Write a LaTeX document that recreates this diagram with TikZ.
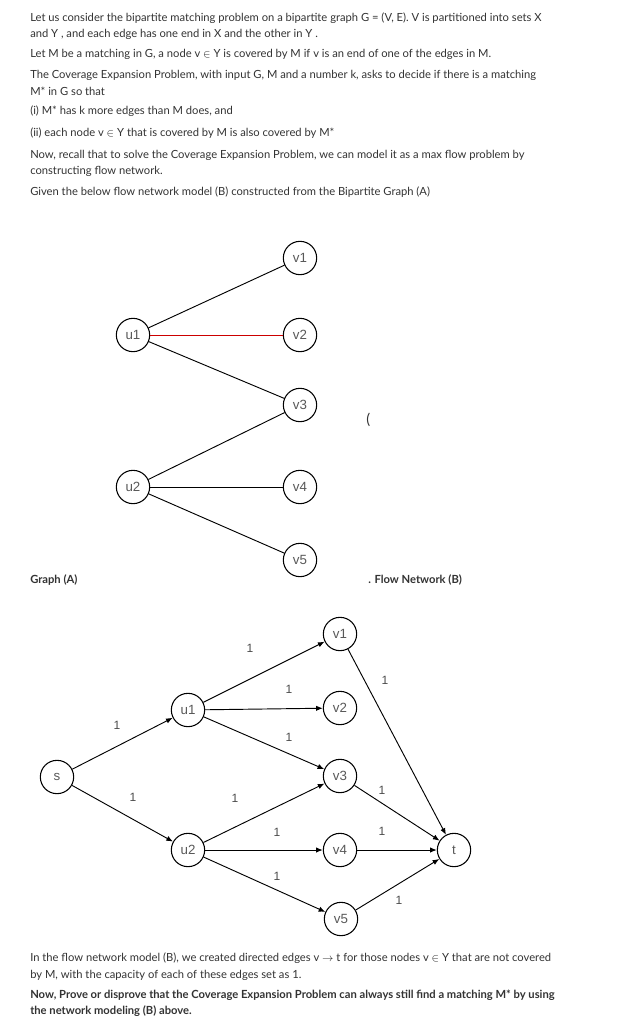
\documentclass[tikz,border=0pt]{standalone}
\usepackage{fontspec}
\setmainfont{Lato}
\newfontfamily\nodefont{Liberation Sans}
\usetikzlibrary{arrows.meta}
\definecolor{txt}{HTML}{333333}
\begin{document}
\begin{tikzpicture}[x=0.75pt,y=-0.75pt,
  vx/.style={circle,draw,line width=0.8pt,minimum size=25pt,inner sep=0pt,font=\nodefont\fontsize{10}{12}\selectfont,text=black!65},
  ed/.style={line width=0.7pt},
  ar/.style={line width=0.7pt,-{Latex[length=5pt,width=4pt]}},
  lb/.style={font=\nodefont\fontsize{9}{11}\selectfont,text=black!70},
  tl/.style={anchor=west,inner sep=0pt,font=\fontsize{8.4}{10}\selectfont,text=txt}]
\useasboundingbox[fill=white] (0,0) rectangle (629,1024);
% text
\node[tl] (l1) at (30,18) {Let us consider the bipartite matching problem on a bipartite graph G = (V, E). V is partitioned into sets X};
\node[tl] (l2) at (30,34) {and Y , and each edge has one end in X and the other in Y .};
\node[tl] (l3) at (30,54) {Let M be a matching in G, a node v $\in$ Y is covered by M if v is an end of one of the edges in M.};
\node[tl] (l4) at (30,75) {The Coverage Expansion Problem, with input G, M and a number k, asks to decide if there is a matching};
\node[tl] (l5) at (30,91) {M* in G so that};
\node[tl] (l6) at (30,111) {(i) M* has k more edges than M does, and};
\node[tl] (l7) at (30,133) {(ii) each node v $\in$ Y that is covered by M is also covered by M*};
\node[tl] (l8) at (30,155) {Now, recall that to solve the Coverage Expansion Problem, we can model it as a max flow problem by};
\node[tl] (l9) at (30,171) {constructing flow network.};
\node[tl] (l10) at (30,192) {Given the below flow network model (B) constructed from the Bipartite Graph (A)};
\node[tl] (b1) at (30,958) {In the flow network model (B), we created directed edges v $\rightarrow$ t for those nodes v $\in$ Y that are not covered};
\node[tl] (b2) at (30,975) {by M, with the capacity of each of these edges set as 1.};
\node[tl,font=\fontsize{8.4}{10}\selectfont\bfseries] (b3) at (30,995) {Now, Prove or disprove that the Coverage Expansion Problem can always still find a matching M* by using};
\node[tl,font=\fontsize{8.4}{10}\selectfont\bfseries] (b4) at (30,1011) {the network modeling (B) above.};
\node[tl,font=\fontsize{8.4}{10}\selectfont\bfseries] (ga) at (30,580) {Graph (A)};
\node[tl,font=\fontsize{8.4}{10}\selectfont\bfseries] (fb) at (368,580) {. Flow Network (B)};
\node[tl,font=\fontsize{11}{12}\selectfont] (par) at (366,420) {(};
% Graph A
\node[vx] (au1) at (133,335) {u1};
\node[vx] (au2) at (133,487) {u2};
\node[vx] (av1) at (300,258) {v1};
\node[vx] (av2) at (300,335) {v2};
\node[vx] (av3) at (300,405) {v3};
\node[vx] (av4) at (300,487) {v4};
\node[vx] (av5) at (300,560) {v5};
\draw[ed] (au1)--(av1); \draw[ed,red!80!black] (au1)--(av2); \draw[ed] (au1)--(av3);
\draw[ed] (au2)--(av3); \draw[ed] (au2)--(av4); \draw[ed] (au2)--(av5);
% Network B
\node[vx] (s) at (57,777) {s};
\node[vx] (u1) at (188,710) {u1};
\node[vx] (u2) at (188,850) {u2};
\node[vx] (v1) at (340,634) {v1};
\node[vx] (v2) at (340,708) {v2};
\node[vx] (v3) at (340,776) {v3};
\node[vx] (v4) at (340,850) {v4};
\node[vx] (v5) at (341,919) {v5};
\node[vx] (t) at (454,850) {t};
\draw[ar] (s)--(u1); \draw[ar] (s)--(u2);
\draw[ar] (u1)--(v1); \draw[ar] (u1)--(v2); \draw[ar] (u1)--(v3);
\draw[ar] (u2)--(v3); \draw[ar] (u2)--(v4); \draw[ar] (u2)--(v5);
\draw[ar] (v1)--(t); \draw[ar] (v3)--(t); \draw[ar] (v4)--(t); \draw[ar] (v5)--(t);
\node[lb] (c1) at (117,725) {1};
\node[lb] (c2) at (133,797) {1};
\node[lb] (c3) at (250,648) {1};
\node[lb] (c4) at (289,689) {1};
\node[lb] (c5) at (289,737) {1};
\node[lb] (c6) at (235,798) {1};
\node[lb] (c7) at (277,832) {1};
\node[lb] (c8) at (277,876) {1};
\node[lb] (c9) at (385,680) {1};
\node[lb] (c10) at (382,790) {1};
\node[lb] (c11) at (382,831) {1};
\node[lb] (c12) at (399,900) {1};
\end{tikzpicture}
\end{document}
